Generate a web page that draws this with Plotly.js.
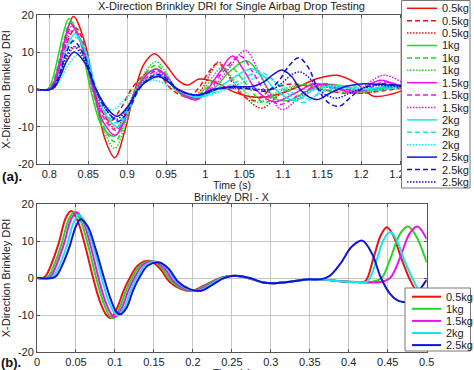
<!DOCTYPE html>
<html><head><meta charset="utf-8">
<script src="https://cdn.plot.ly/plotly-3.0.1.min.js"></script>
<style>html,body{margin:0;padding:0;background:#fff}#chart{width:474px;height:370px}</style>
</head><body><div id="chart"></div>
<script>
// ---------- Top chart (a): time (s) and X-direction Brinkley DRI ----------
const t05a = [0.784,0.799,0.805,0.811,0.819,0.831,0.845,0.858,0.871,0.884,0.897,0.910,0.922,0.935,0.950,0.965,0.977,0.992,1.005,1.020,1.035,1.055,1.072,1.095,1.120,1.145,1.169,1.193,1.216,1.240,1.262,1.284];
const v05a = [0,0,1,4.5,12.5,19.6,13,0,-13,-18.3,-11,0,7,9.6,6.5,2.5,1.2,2.8,2.5,1.3,-0.5,-1.8,-2.1,-1.2,0.8,3.0,3.8,1.8,-1.8,-1.2,0.3,0.8];
const t05b = [0.784,0.800,0.806,0.812,0.820,0.834,0.846,0.857,0.868,0.878,0.892,0.905,0.919,0.932,0.945,0.957,0.978,0.992,1.004,1.016,1.028,1.040,1.062,1.085,1.110,1.140,1.170,1.200,1.230,1.260,1.284];
const v05b = [0,0,1,4.5,11,16.5,11,0,-6,-8.5,-5,0,3.5,5,3,0,-2,0.5,4.5,7,4.5,0,-3,0,1.5,0.5,-0.8,-1,-0.3,0.5,0.3];
const t05c = [0.784,0.800,0.806,0.813,0.821,0.834,0.847,0.859,0.872,0.885,0.898,0.911,0.925,0.938,0.951,0.963,0.985,0.997,1.007,1.017,1.030,1.045,1.072,1.095,1.120,1.160,1.200,1.240,1.284];
const v05c = [0,0,0.8,3.5,8,11.5,8,0,-7.5,-10.5,-6,0,3,4,2.5,0,-2,0.5,4.5,7.4,4,-0.5,-5,-1.5,1,0.5,-1,0.5,0.3];
const t1a = [0.784,0.797,0.803,0.810,0.8185,0.825,0.838,0.853,0.868,0.884,0.898,0.911,0.924,0.937,0.950,0.962,0.975,0.988,1.000,1.013,1.030,1.053,1.070,1.090,1.110,1.130,1.150,1.175,1.200,1.230,1.260,1.284];
const v1a = [0,0,2,7.8,15.5,19,14,0,-10,-12.5,-7,0,4,5.5,3.5,0,-2,-2.5,-1.5,0.5,4.5,7.7,4,-2.5,-2.8,-0.5,1.3,1.0,-0.3,0.5,1.2,0.8];
const t1b = [0.784,0.798,0.804,0.811,0.819,0.827,0.840,0.855,0.870,0.884,0.898,0.911,0.924,0.937,0.950,0.962,0.985,1.000,1.015,1.030,1.045,1.058,1.075,1.095,1.130,1.165,1.200,1.240,1.284];
const v1b = [0,0,1.5,6.5,13.5,18,13,0,-10,-14,-8,0,4.5,6.5,4,0,-2.2,0,3.5,6.5,3.5,0,-3.5,-1.5,1.5,0.5,-0.5,0.8,0.5];
const t1c = [0.784,0.799,0.805,0.812,0.820,0.829,0.842,0.856,0.870,0.884,0.898,0.911,0.924,0.937,0.950,0.962,0.985,0.998,1.010,1.022,1.035,1.048,1.068,1.090,1.120,1.155,1.190,1.240,1.284];
const v1c = [0,0,1.5,6,12.5,17,12,0,-11,-15.8,-9,0,5,7.5,4.5,0,-2.5,0,3.5,6,3,0,-3.5,-1,1.2,0,-1,0.5,0.3];
const t15a = [0.784,0.799,0.805,0.812,0.820,0.827,0.841,0.856,0.870,0.885,0.899,0.912,0.925,0.938,0.951,0.963,0.988,1.003,1.018,1.035,1.050,1.065,1.088,1.115,1.140,1.165,1.190,1.225,1.255,1.284];
const v15a = [0,0,1.5,6.5,13.5,17.7,12.5,0,-9,-12.3,-7,0,4,5.5,3.5,0,-2.8,0,4.5,9,5,0,-3.3,-1,1.5,0.5,-0.8,2.5,0.5,0];
const t15b = [0.784,0.800,0.806,0.813,0.821,0.829,0.843,0.857,0.871,0.886,0.900,0.913,0.926,0.939,0.952,0.964,0.990,1.006,1.022,1.045,1.060,1.075,1.095,1.120,1.150,1.200,1.230,1.260,1.284];
const v15b = [0,0,1.5,6,13,17,12,0,-8,-11,-6,0,3.5,5,3,0,-2.5,0,4.5,9,5,0,-4,-1.5,1.5,-0.5,2,0.5,0.2];
const t15c = [0.784,0.800,0.806,0.813,0.821,0.830,0.844,0.858,0.872,0.887,0.901,0.914,0.927,0.940,0.953,0.965,0.990,1.008,1.028,1.052,1.066,1.080,1.098,1.122,1.150,1.190,1.229,1.262,1.284];
const v15c = [0,0,1.3,5.5,12,16,11,0,-7,-10,-6,0,3,4.5,2.8,0,-2.5,0,5,10.5,6,0,-5.4,-2,1.5,-0.5,3.8,1,0];
const t2a = [0.784,0.801,0.807,0.814,0.822,0.833,0.846,0.859,0.873,0.887,0.901,0.914,0.927,0.940,0.953,0.965,0.990,1.010,1.035,1.060,1.075,1.090,1.115,1.140,1.165,1.200,1.240,1.284];
const v2a = [0,0,1,5,11,15,10.5,0,-7,-10,-6,0,3,4,2.5,0,-2,-0.5,3,5.6,3.5,0,-3,0,1,0,1,0.5];
const t2b = [0.784,0.801,0.807,0.814,0.822,0.834,0.847,0.860,0.873,0.886,0.900,0.913,0.927,0.940,0.953,0.965,0.990,1.015,1.045,1.070,1.085,1.100,1.125,1.150,1.180,1.220,1.250,1.284];
const v2b = [0,0,1,4.5,10,14,10,0,-6.5,-9,-5.5,0,2.5,3.5,2,0,-2,-0.5,2.5,4.7,3,0,-3.5,-0.5,1,-0.3,0.8,0.5];
const t2c = [0.784,0.802,0.808,0.815,0.824,0.836,0.849,0.861,0.871,0.881,0.895,0.910,0.922,0.935,0.948,0.962,0.990,1.020,1.050,1.075,1.090,1.105,1.130,1.160,1.200,1.240,1.284];
const v2c = [0,0,0.7,3,6.5,9.2,6.5,0,-4,-5.5,-3,0,1.8,2.5,1.5,0,-2,-0.5,2,3.5,2,0,-2.5,0,0.5,0.2,0.3];
const t25a = [0.784,0.801,0.807,0.814,0.822,0.832,0.846,0.860,0.874,0.887,0.901,0.914,0.927,0.940,0.953,0.965,0.990,1.010,1.035,1.060,1.075,1.087,1.099,1.111,1.122,1.133,1.144,1.160,1.180,1.200,1.240,1.284];
const v25a = [0,0,0.7,3.5,7.5,10.1,7,0,-5,-7.2,-4.5,0,2.5,3.5,2,0,-1.5,0,0.8,0.8,2,4,5.2,3.5,0,-2,-2.7,-1,0.8,1.5,1.2,1];
const t25b = [0.784,0.800,0.806,0.813,0.821,0.831,0.845,0.860,0.875,0.889,0.903,0.915,0.928,0.940,0.953,0.965,0.990,1.020,1.050,1.080,1.095,1.108,1.120,1.132,1.145,1.158,1.172,1.187,1.200,1.225,1.255,1.284];
const v25b = [0,0,1,4,9.5,13,9,0,-6,-8.5,-5,0,3,4,2.5,0,-1.5,0.3,0.3,-0.3,2.5,6.5,8.5,6,0,-3.5,-4.5,-2,0,1.5,0.8,0.5];
const t25c = [0.784,0.800,0.806,0.813,0.821,0.831,0.845,0.859,0.873,0.886,0.900,0.913,0.927,0.940,0.953,0.965,0.990,1.020,1.050,1.085,1.100,1.111,1.122,1.134,1.146,1.158,1.170,1.190,1.215,1.250,1.284];
const v25c = [0,0,0.8,3.5,8.5,11.5,8,0,-5.5,-8,-5,0,2.5,3.5,2,0,-1.5,0.3,0.5,0,2,4,4.7,3,0,-1.8,-2.3,-0.5,1,0.8,0.8];

const topNames = ['0.5kg','0.5kg','0.5kg','1kg','1kg','1kg','1.5kg','1.5kg','1.5kg','2kg','2kg','2kg','2.5kg','2.5kg','2.5kg'];
const topT = [t05a,t05b,t05c,t1a,t1b,t1c,t15a,t15b,t15c,t2a,t2b,t2c,t25a,t25b,t25c];
const topV = [v05a,v05b,v05c,v1a,v1b,v1c,v15a,v15b,v15c,v2a,v2b,v2c,v25a,v25b,v25c];

// ---------- Bottom chart (b): Brinkley DRI - X ----------
const bNames = ['0.5kg','1kg','1.5kg','2kg','2.5kg'];
const bt05 = [0,0.007,0.012,0.018,0.028,0.037,0.044,0.052,0.062,0.072,0.081,0.089,0.095,0.103,0.111,0.119,0.130,0.145,0.158,0.170,0.185,0.198,0.215,0.235,0.252,0.270,0.290,0.305,0.325,0.345,0.365,0.390,0.410,0.421,0.432,0.441,0.449,0.457,0.467,0.479,0.490,0.500];
const bv05 = [0,0,0.8,3.5,9.5,16.3,18.1,15.5,8.5,0,-6.5,-10,-10.8,-8,-3.5,0,3.5,4.6,2.5,-1,-3,-3.5,-2,0,0.6,0,-1.2,-1.4,-1,-0.4,-0.4,-0.9,-1.1,-0.9,5.6,11.5,13.7,11.5,5.6,-0.7,-4.5,-6.5];
const bt1 = [0,0.011,0.016,0.022,0.032,0.041,0.048,0.056,0.066,0.076,0.085,0.093,0.098,0.106,0.114,0.122,0.133,0.149,0.161,0.173,0.188,0.201,0.217,0.236,0.253,0.270,0.290,0.305,0.325,0.345,0.365,0.390,0.410,0.430,0.442,0.454,0.466,0.476,0.486,0.500];
const bv1 = [0,0,0.8,3.5,9.5,16,17.9,15.5,8.5,0,-6.5,-10.2,-10.9,-8,-3.5,0,3.5,4.5,2.5,-1,-3,-3.5,-2,0,0.6,0,-1.2,-1.4,-1,-0.4,-0.4,-0.9,-1.1,-1,0,5.6,12,13.9,11.5,4.2];
const bt15 = [0,0.014,0.019,0.025,0.035,0.044,0.051,0.059,0.069,0.079,0.088,0.096,0.101,0.109,0.117,0.125,0.136,0.152,0.164,0.176,0.191,0.204,0.219,0.237,0.254,0.271,0.290,0.305,0.325,0.345,0.365,0.390,0.410,0.440,0.453,0.466,0.478,0.488,0.500];
const bv15 = [0,0,0.8,3.5,9.5,16,17.8,15.5,8.5,0,-6.5,-10,-10.5,-8,-3.5,0,3.5,4.4,2.5,-1,-3,-3.5,-2,0,0.6,0,-1.2,-1.4,-1,-0.4,-0.4,-0.9,-1.1,-1.1,0,5.6,12,13.9,10.5];
const bt2 = [0,0.017,0.022,0.028,0.038,0.047,0.054,0.062,0.072,0.083,0.092,0.100,0.104,0.112,0.120,0.128,0.139,0.155,0.167,0.179,0.194,0.207,0.221,0.238,0.255,0.272,0.290,0.305,0.325,0.345,0.365,0.390,0.410,0.424,0.436,0.445,0.453,0.461,0.471,0.483,0.492,0.500];
const bv2 = [0,0,0.7,3,8.5,15,17,14.8,8.5,0,-6.3,-9.6,-10.2,-8,-3.5,0,3.4,4.3,2.5,-1,-3,-3.5,-2,0,0.6,0,-1.2,-1.4,-1,-0.4,-0.4,-0.9,-1.1,-0.9,5,10.5,12.4,10.5,5,-0.7,-4,-6];
const bt25 = [0,0.020,0.025,0.031,0.041,0.050,0.056,0.065,0.075,0.086,0.095,0.102,0.107,0.115,0.123,0.131,0.142,0.157,0.169,0.181,0.196,0.210,0.224,0.240,0.256,0.273,0.290,0.305,0.325,0.345,0.365,0.375,0.389,0.404,0.4174,0.430,0.441,0.452,0.462,0.470,0.478,0.488,0.500];
const bv25 = [0,0,0.6,2.8,8,14,15.9,14,8,0,-6,-9.2,-9.8,-8,-3.5,0,3.3,4.2,2.5,-1,-3,-3.5,-2,0,0.6,0,-1.2,-1.4,-1,-0.4,-0.3,0.5,3.8,8.5,10.1,6.5,0.2,-4,-6,-6.5,-6.3,-4,-0.5];
const bT = [bt05,bt1,bt15,bt2,bt25];
const bV = [bv05,bv1,bv15,bv2,bv25];

const yTickVals = [-20,-10,0,10,20];
const yTickText = ['-20','-10','0','10','20'];

// ---------- styling ----------
const massColors = ['#ee1111','#22d822','#ee11ee','#11e8e8','#1111d8'];
const styleDash = ['solid','5px,3px','1.5px,1.5px'];
const FONT = 'Liberation Sans, Arial, sans-serif';
const W = 474, H = 370;
const px = x => x / W, py = y => 1 - y / H;

const traces = [];
topT.forEach((t, i) => {
  traces.push({
    x: t, y: topV[i], xaxis: 'x', yaxis: 'y', type: 'scatter', mode: 'lines',
    name: topNames[i], showlegend: false, hoverinfo: 'skip',
    line: {color: massColors[Math.floor(i / 3)], width: 1.5, dash: styleDash[i % 3], shape: 'spline', smoothing: 1}
  });
});
bT.forEach((t, i) => {
  traces.push({
    x: t, y: bV[i], xaxis: 'x2', yaxis: 'y2', type: 'scatter', mode: 'lines',
    name: bNames[i], showlegend: false, hoverinfo: 'skip',
    line: {color: massColors[i], width: 2, shape: 'spline', smoothing: 1}
  });
});

const axisCommon = {
  showline: true, mirror: 'ticks', linecolor: '#555', linewidth: 1,
  ticks: 'inside', ticklen: 3, tickcolor: '#555',
  showgrid: true, gridcolor: '#c6c6c6', gridwidth: 1, zeroline: false,
  tickfont: {family: FONT, size: 11, color: '#222'}
};

const shapes = [];
const annotations = [];
// top legend box
shapes.push({type: 'rect', xref: 'paper', yref: 'paper', x0: px(401.5), x1: px(470), y0: py(0.5), y1: py(188),
  fillcolor: '#fff', line: {color: '#777', width: 1}, layer: 'above'});
topNames.forEach((n, i) => {
  const yy = 8.3 + i * 12.4;
  shapes.push({type: 'line', xref: 'paper', yref: 'paper', x0: px(407), x1: px(437), y0: py(yy), y1: py(yy),
    line: {color: massColors[Math.floor(i / 3)], width: 1.5, dash: styleDash[i % 3]}, layer: 'above'});
  annotations.push({text: n, xref: 'paper', yref: 'paper', x: px(440), y: py(yy), xanchor: 'left', yanchor: 'middle',
    showarrow: false, font: {family: FONT, size: 11, color: '#222'}});
});
// bottom legend box
shapes.push({type: 'rect', xref: 'paper', yref: 'paper', x0: px(405), x1: px(470.5), y0: py(288), y1: py(351),
  fillcolor: '#fff', line: {color: '#777', width: 1}, layer: 'above'});
bNames.forEach((n, i) => {
  const yy = 296.7 + i * 12.1;
  shapes.push({type: 'line', xref: 'paper', yref: 'paper', x0: px(412), x1: px(441), y0: py(yy), y1: py(yy),
    line: {color: massColors[i], width: 2}, layer: 'above'});
  annotations.push({text: n, xref: 'paper', yref: 'paper', x: px(444), y: py(yy), xanchor: 'left', yanchor: 'middle',
    showarrow: false, font: {family: FONT, size: 11, color: '#222'}});
});
// axis titles and subplot title as annotations for exact placement
annotations.push({text: 'Time (s)', xref: 'paper', yref: 'paper', x: px(231.5), y: py(185), xanchor: 'center', yanchor: 'middle',
  showarrow: false, borderpad: 0, font: {family: FONT, size: 10.5, color: '#222'}});
annotations.push({text: 'Brinkley DRI - X', xref: 'paper', yref: 'paper', x: px(231.5), y: py(197), xanchor: 'center', yanchor: 'middle',
  showarrow: false, borderpad: 0, font: {family: FONT, size: 10.5, color: '#222'}});
annotations.push({text: 'Time (s)', xref: 'paper', yref: 'paper', x: px(231.5), y: py(366), xanchor: 'center', yanchor: 'top',
  showarrow: false, borderpad: 0, font: {family: FONT, size: 10.5, color: '#222'}});
annotations.push({text: '<b>(a).</b>', xref: 'paper', yref: 'paper', x: px(1), y: py(176), xanchor: 'left', yanchor: 'middle',
  showarrow: false, borderpad: 0, font: {family: FONT, size: 13.5, color: '#111'}});
annotations.push({text: '<b>(b).</b>', xref: 'paper', yref: 'paper', x: px(0), y: py(362), xanchor: 'left', yanchor: 'middle',
  showarrow: false, borderpad: 0, font: {family: FONT, size: 13, color: '#111'}});

const layout = {
  width: W, height: H, margin: {l: 0, r: 0, t: 0, b: 0},
  paper_bgcolor: '#fff', plot_bgcolor: '#fff', showlegend: false,
  font: {family: FONT, size: 11, color: '#222'},
  title: {text: 'X-Direction Brinkley DRI for Single Airbag Drop Testing', font: {family: FONT, size: 11, color: '#222'},
    xref: 'paper', yref: 'paper', x: px(231.5), xanchor: 'center', y: py(6.5), yanchor: 'middle'},
  xaxis: Object.assign({}, axisCommon, {domain: [px(37), px(426.7)], anchor: 'y', range: [0.7842, 1.2842], tick0: 0.8, dtick: 0.05}),
  yaxis: Object.assign({}, axisCommon, {domain: [py(164), py(15)], anchor: 'x', range: [-20, 20], tickvals: yTickVals, ticktext: yTickText,
    title: {text: 'X-Direction Brinkley DRI', font: {family: FONT, size: 11, color: '#222'}, standoff: 5}}),
  xaxis2: Object.assign({}, axisCommon, {domain: [px(37), px(426.7)], anchor: 'y2', range: [0, 0.5], tick0: 0, dtick: 0.05}),
  yaxis2: Object.assign({}, axisCommon, {domain: [py(352), py(204)], anchor: 'x2', range: [-20, 20], tickvals: yTickVals, ticktext: yTickText,
    title: {text: 'X-Direction Brinkley DRI', font: {family: FONT, size: 11, color: '#222'}, standoff: 5}}),
  shapes: shapes,
  annotations: annotations
};

Plotly.newPlot('chart', traces, layout, {staticPlot: true, displayModeBar: false});
</script></body></html>
